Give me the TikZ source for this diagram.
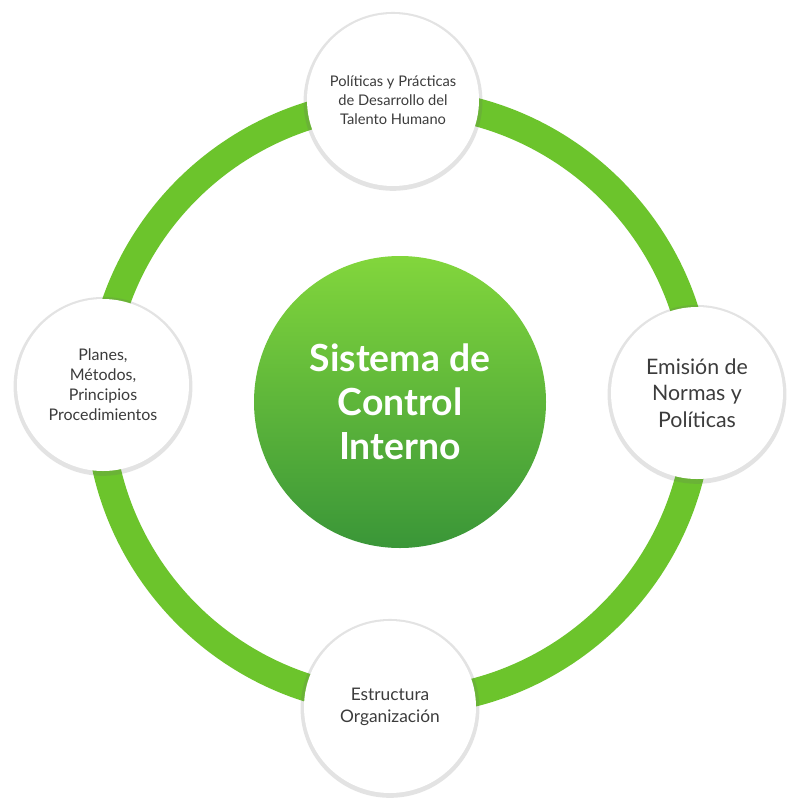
\documentclass[tikz,border=0pt]{standalone}
\usepackage{fontspec}
\setmainfont{Lato}
\usetikzlibrary{shadows}
\definecolor{ringg}{RGB}{108,196,44}
\definecolor{ctop}{RGB}{130,214,60}
\definecolor{cbot}{RGB}{58,150,56}
\definecolor{txt}{RGB}{60,60,60}
\tikzset{
  sat/.style={circle, fill=white, minimum size=172pt*0.75, inner sep=0pt, align=center, text=txt,
    drop shadow={shadow xshift=0pt, shadow yshift=-1pt, shadow scale=1.04, opacity=0.18, fill=black!60}},
}
\begin{document}
\begin{tikzpicture}[x=0.75pt,y=-0.75pt]
\useasboundingbox (0,0) rectangle (800,800);
\fill[white] (0,0) rectangle (800,800);
\node[circle, draw=ringg, line width=28*0.75pt, minimum size=600*0.75pt, inner sep=0pt] (ring) at (399,402) {};
\node[circle, inner sep=0pt, minimum size=292*0.75pt, top color=ctop, bottom color=cbot,
  text=white, font=\bfseries\fontsize{28}{33}\selectfont, align=center] (core) at (400,402)
  {Sistema de\\Control\\Interno};
\node[sat, font=\fontsize{11}{14}\selectfont] (top) at (393,100) {Políticas y Prácticas\\de Desarrollo del\\Talento Humano};
\node[sat, font=\fontsize{12}{15}\selectfont] (left) at (103,385) {Planes,\\Métodos,\\Principios\\Procedimientos};
\node[sat, font=\fontsize{16}{20}\selectfont] (right) at (697,393) {Emisión de\\Normas y\\Políticas};
\node[sat, font=\fontsize{13}{17}\selectfont] (bottom) at (390,707) {Estructura\\Organización};
\end{tikzpicture}
\end{document}
